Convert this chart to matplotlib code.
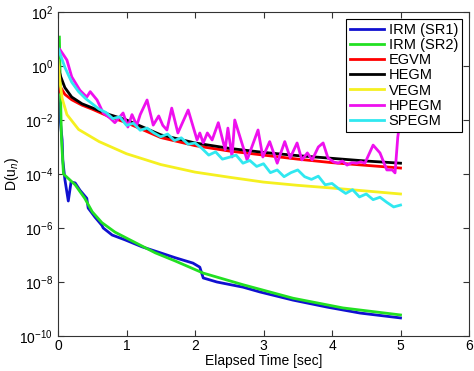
import matplotlib
matplotlib.use("Agg")
import matplotlib.pyplot as plt
import numpy as np

plt.rcParams["font.family"] = ["Liberation Sans", "DejaVu Sans"]
plt.rcParams["mathtext.fontset"] = "custom"
plt.rcParams["mathtext.rm"] = "Liberation Sans"
plt.rcParams["mathtext.it"] = "Liberation Sans:italic"
plt.rcParams["mathtext.bf"] = "Liberation Sans:bold"

# curves: x = elapsed time [sec], values = log10 D(u_n)
irm1_t = [0.0, 0.06, 0.07, 0.1, 0.15, 0.19, 0.25, 0.32, 0.42, 0.44, 0.54, 0.64, 0.66,
          0.79, 0.98, 1.23, 1.46, 1.71, 1.97, 2.07, 2.12, 2.32, 2.70, 2.95, 3.43, 3.93, 4.41, 5.0]
irm1_log = [-1.15, -2.74, -3.48, -4.2, -5.0, -4.3, -4.33, -4.6, -4.9, -5.26, -5.6, -5.9, -6.0,
            -6.26, -6.44, -6.7, -6.89, -7.1, -7.3, -7.45, -7.85, -8.0, -8.19, -8.37, -8.67, -8.93, -9.15, -9.33]

irm2_t = [0.02, 0.05, 0.08, 0.25, 0.39, 0.50, 0.64, 0.83, 1.02, 1.42, 1.71, 2.12, 2.70, 3.43, 4.16, 5.0]
irm2_log = [1.07, -2.7, -4.0, -4.4, -4.9, -5.4, -5.8, -6.15, -6.4, -6.92, -7.22, -7.67, -8.1, -8.6, -8.96, -9.22]

smooth_t = [0.0, 0.04, 0.1, 0.2, 0.35, 0.5, 0.75, 1.0, 1.5, 2.0, 2.5, 3.0, 3.5, 4.0, 4.5, 5.0]
egvm_log = [-1.0, -0.8, -1.05, -1.25, -1.45, -1.6, -1.88, -2.1, -2.65, -2.95, -3.15, -3.3, -3.45, -3.58, -3.68, -3.78]
hegm_log = [-0.04, -0.4, -0.8, -1.15, -1.4, -1.55, -1.8, -2.0, -2.55, -2.85, -3.05, -3.2, -3.32, -3.42, -3.52, -3.6]

vegm_t = [0.0, 0.03, 0.06, 0.13, 0.3, 0.6, 1.0, 1.5, 2.0, 2.5, 3.0, 3.5, 4.0, 4.5, 5.0]
vegm_log = [0.2, -0.6, -1.2, -1.8, -2.35, -2.8, -3.25, -3.65, -3.93, -4.12, -4.3, -4.42, -4.52, -4.63, -4.74]

hpegm_t = [0.03, 0.13, 0.2, 0.32, 0.42, 0.47, 0.57, 0.66, 0.76, 0.83, 0.95, 1.02, 1.08, 1.15, 1.2,
           1.3, 1.39, 1.47, 1.53, 1.59, 1.66, 1.75, 1.90, 2.03, 2.07, 2.12, 2.18, 2.25, 2.34, 2.44,
           2.48, 2.54, 2.58, 2.76, 2.92, 2.99, 3.09, 3.20, 3.31, 3.39, 3.49, 3.56, 3.64, 3.71, 3.80,
           3.87, 3.94, 4.02, 4.09, 4.15, 4.22, 4.29, 4.36, 4.42, 4.48, 4.60, 4.70, 4.80, 4.88, 4.92,
           4.96, 4.99]
hpegm_log = [0.6, 0.22, -0.4, -0.9, -1.15, -0.95, -1.26, -1.74, -1.93, -2.1, -1.74, -2.26, -1.8, -2.2, -1.8,
             -1.26, -2.19, -1.85, -2.2, -2.37, -1.56, -2.48, -1.63, -2.74, -2.48, -2.85, -2.48, -2.74, -2.1, -3.1,
             -2.3, -3.37, -2.0, -3.48, -2.37, -3.37, -2.8, -3.6, -2.8, -3.4, -2.85, -3.48, -3.22, -3.48, -3.0,
             -2.85, -3.4, -3.55, -3.6, -3.52, -3.67, -3.58, -3.6, -3.55, -3.6, -2.93, -3.22, -3.85, -3.85, -3.96,
             -2.63, -2.1]

spegm_t = [0.0, 0.1, 0.2, 0.3, 0.4, 0.5, 0.6, 0.7, 0.8, 0.9, 1.0, 1.1, 1.2, 1.3, 1.4, 1.5, 1.6,
           1.7, 1.8, 1.9, 2.0, 2.1, 2.2, 2.3, 2.4, 2.5, 2.6, 2.7, 2.8, 2.9, 3.0, 3.1, 3.2, 3.3,
           3.4, 3.5, 3.6, 3.7, 3.8, 3.9, 4.0, 4.1, 4.2, 4.3, 4.4, 4.5, 4.6, 4.7, 4.8, 4.9, 5.0]
spegm_log = [0.67, -0.05, -0.6, -0.95, -1.2, -1.4, -1.6, -1.72, -1.95, -1.88, -2.2, -2.12, -2.38, -2.3, -2.48,
             -2.62, -2.52, -2.76, -2.66, -2.9, -2.85, -3.05, -3.3, -3.18, -3.45, -3.38, -3.3, -3.6, -3.5, -3.72,
             -3.62, -3.95, -3.85, -4.1, -3.95, -3.85, -4.1, -4.2, -4.08, -4.4, -4.35, -4.55, -4.72, -4.58, -4.85,
             -4.74, -4.95, -4.86, -5.05, -5.22, -5.15]

series = [
    ("IRM (SR1)", irm1_t, irm1_log, "#1010d0"),
    ("IRM (SR2)", irm2_t, irm2_log, "#22e022"),
    ("EGVM", smooth_t, egvm_log, "#ff0000"),
    ("HEGM", smooth_t, hegm_log, "#000000"),
    ("VEGM", vegm_t, vegm_log, "#f5f020"),
    ("HPEGM", hpegm_t, hpegm_log, "#ee10ee"),
    ("SPEGM", spegm_t, spegm_log, "#30e8f0"),
]

fig = plt.figure(figsize=(4.74, 3.71), dpi=100)
ax = fig.add_axes([0.1224, 0.0943, 0.8671, 0.8734])

for name, t, lg, col in series:
    ax.semilogy(t, 10.0 ** np.array(lg), color=col, lw=2.0, label=name)

ax.set_xlim(0, 6)
ax.set_ylim(1e-10, 1e2)
ax.set_xticks([0, 1, 2, 3, 4, 5, 6])
ax.set_yticks([10.0 ** k for k in range(-10, 3, 2)])
ax.minorticks_off()
ax.tick_params(direction="in", top=True, right=True, length=4, labelsize=10, color="#333333")
ax.tick_params(axis="x", pad=2.5)
for s in ax.spines.values():
    s.set_color("#333333")
ax.set_xlabel("Elapsed Time [sec]", fontsize=10)
ax.set_ylabel("D(u$_n$)", fontsize=10)
ax.xaxis.set_label_coords(0.5, -0.056)
ax.yaxis.set_label_coords(-0.09, 0.5)

leg = ax.legend(loc="upper right", fontsize=10.5, handlelength=2.3, labelspacing=0.08,
                borderpad=0.25, handletextpad=0.35, fancybox=False, framealpha=1,
                borderaxespad=0.5)
leg.get_frame().set_edgecolor("#000000")
leg.get_frame().set_linewidth(0.8)

fig.savefig("out.png", dpi=100)
